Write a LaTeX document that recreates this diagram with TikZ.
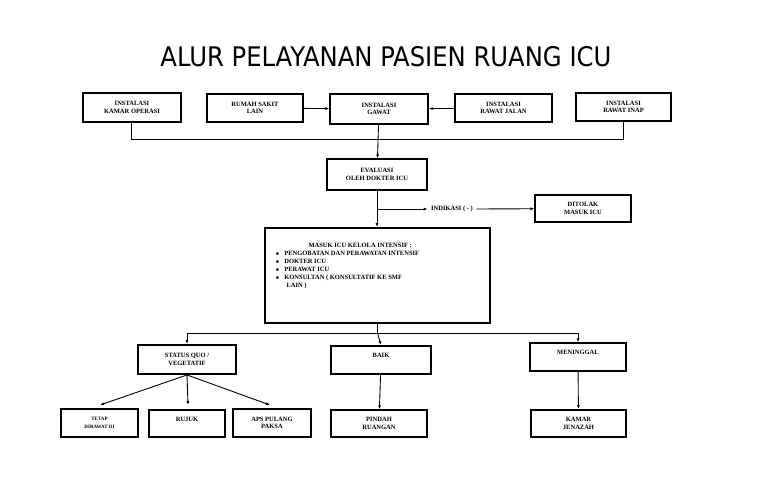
\documentclass[tikz,border=0pt]{standalone}
\usepackage{fontspec}
\setmainfont{Liberation Serif}
\newfontfamily\titlefont{DejaVu Sans Condensed}
\usetikzlibrary{arrows.meta}
\begin{document}
\begin{tikzpicture}[x=1pt,y=-1pt,
  bx/.style={draw,line width=1.2pt,align=center,font=\bfseries\fontsize{6.5}{7.5}\selectfont,inner sep=0pt},
  thick box/.style={bx,line width=1.9pt},
  ar/.style={-{Latex[length=4pt,width=3pt]},line width=0.9pt},
  ln/.style={line width=0.9pt}]
\useasboundingbox (0,0) rectangle (768,491);
\newcommand\bxat[6]{\node[#1,minimum width={#4-#2},minimum height={#5-#3}] (#6) at ({(#2+#4)/2},{(#3+#5)/2})}
\node[font=\titlefont\fontsize{27}{30}\selectfont] (title) at (386,57) {ALUR PELAYANAN PASIEN RUANG ICU};
\bxat{bx}{83}{93}{181}{122}{ko} {INSTALASI\\KAMAR OPERASI};
\bxat{bx}{207}{94}{303}{122}{rs} {RUMAH SAKIT\\LAIN};
\bxat{bx}{330}{94}{428}{124}{igd} {INSTALASI\\GAWAT};
\bxat{bx}{455}{94}{552}{122}{rj} {INSTALASI\\RAWAT JALAN};
\bxat{bx}{576}{93}{671}{121}{ri} {INSTALASI\\RAWAT INAP};
\bxat{bx}{327}{159}{427}{190}{ev} {EVALUASI\\OLEH DOKTER ICU};
\bxat{bx}{535}{195}{631}{222}{dt} {DITOLAK\\MASUK ICU};
\node[font=\bfseries\fontsize{6.5}{7.5}\selectfont] (ind) at (452,209) {INDIKASI ( - )};
\bxat{thick box}{265}{228}{490}{323}{mk} {};
\node[font=\bfseries\fontsize{6.5}{8}\selectfont,align=left,anchor=north west] (mktext) at (272,240) {%
\hspace*{33pt}MASUK ICU KELOLA INTENSIF :\\
$\bullet$\hspace{5pt}PENGOBATAN DAN PERAWATAN INTENSIF\\
$\bullet$\hspace{5pt}DOKTER ICU\\
$\bullet$\hspace{5pt}PERAWAT ICU\\
$\bullet$\hspace{5pt}KONSULTAN ( KONSULTATIF KE SMF\\
\hspace*{11pt}LAIN )};
\bxat{thick box}{138}{345}{236}{374}{sq} {STATUS QUO /\\VEGETATIF};
\bxat{thick box}{331}{346}{431}{374}{bk} {};
\node[font=\bfseries\fontsize{6.5}{7.5}\selectfont] (bkt) at (381,355) {BAIK};
\bxat{bx}{530}{343}{626}{371}{mn} {};
\node[font=\bfseries\fontsize{6.5}{7.5}\selectfont] (mnt) at (578,352) {MENINGGAL};
\bxat{bx}{61}{409}{138}{437}{tt} {\fontsize{5}{9}\selectfont TETAP\\\fontsize{5}{9}\selectfont DIRAWAT DI};
\bxat{thick box}{149}{410}{225}{437}{rk} {};
\node[font=\bfseries\fontsize{6.5}{7.5}\selectfont] (rkt) at (187,419) {RUJUK};
\bxat{thick box}{233}{409}{311}{437}{aps} {APS PULANG\\PAKSA};
\bxat{bx}{331}{410}{427}{437}{pr} {PINDAH\\RUANGAN};
\bxat{thick box}{531}{410}{626}{437}{kj} {KAMAR\\JENAZAH};
% top
\draw[ar] (rs) -- (igd);
\draw[ar] (rj) -- (igd);
\coordinate (b1) at (131,139); \coordinate (b2) at (623,139);
\draw[ln] (ko.south -| b1) -- (b1) -- (b2) -- (ri.south -| b2);
\draw[ar] (igd) -- (ev);
\coordinate (j) at (ev.south |- ind);
\draw[ar] (ev) -- (mk.north -| ev);
\draw[ar] (j) -- (ind.west);
\draw[ar] (ind.east) -- (dt);
% bottom bus
\coordinate (m) at (mk.south |- 0,333);
\draw[ln] (mk.south) -- (m);
\draw[ln] (sq.north |- m) -- (mn.north |- m);
\draw[ar] (sq.north |- m) -- (sq.north);
\draw[ar] (m) -- (bk.north);
\draw[ar] (mn.north |- m) -- (mn.north);
\draw[ar] (sq.south) -- (100,405);
\draw[ar] (sq.south) -- (188,405);
\draw[ar] (sq.south) -- (270,405);
\draw[ar] (bk) -- (pr);
\draw[ar] (mn) -- (kj);
\end{tikzpicture}
\end{document}
